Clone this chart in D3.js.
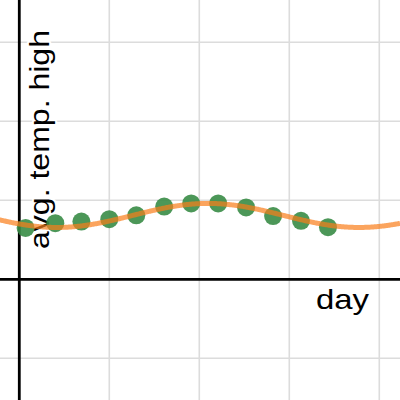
<!DOCTYPE html>
<html>
<head>
<meta charset="utf-8">
<script src="https://d3js.org/d3.v7.min.js"></script>
<style>
  body { margin: 0; background: #fff; }
  text { font-family: "Liberation Sans", Arial, sans-serif; }
</style>
</head>
<body>
<div id="my_dataviz"></div>

<script>
    // monthly points (day of year, avg. temp. high)
    var days  = [7, 40, 69, 100, 130, 161, 191, 221, 252, 282, 313, 343];
    var temps = [65, 71, 73, 76, 81, 92, 96, 96, 91, 80, 74, 66];

    // fitted sine curve: mid + amp * cos(2pi (x - peak) / period)
    var fitMid = 80.8, fitAmp = 15.2, fitPeak = 209.7, fitPeriod = 335.6;

    // grid lines
    var xGrid = [100, 200, 300, 400];
    var yGrid = [-100, 100, 200, 300];

    var width = 400, height = 400;

    var svg = d3.select("#my_dataviz")
        .append("svg")
        .attr("width", width)
        .attr("height", height);

    var x = d3.scaleLinear()
        .domain([-21.44, 423])
        .range([0, width]);

    var y = d3.scaleLinear()
        .domain([-152.8, 353.5])
        .range([height, 0]);

    // grid
    svg.append("g")
        .selectAll("line.vx")
        .data(xGrid)
        .enter()
        .append("line")
        .attr("x1", function (d) { return x(d); })
        .attr("x2", function (d) { return x(d); })
        .attr("y1", 0)
        .attr("y2", height)
        .style("stroke", "#dcdcdc")
        .style("stroke-width", 1.6);

    svg.append("g")
        .selectAll("line.hy")
        .data(yGrid)
        .enter()
        .append("line")
        .attr("x1", 0)
        .attr("x2", width)
        .attr("y1", function (d) { return y(d); })
        .attr("y2", function (d) { return y(d); })
        .style("stroke", "#dcdcdc")
        .style("stroke-width", 1.6);

    // axes
    svg.append("line")
        .attr("x1", x(0)).attr("x2", x(0))
        .attr("y1", 0).attr("y2", height)
        .style("stroke", "#000")
        .style("stroke-width", 2.8);

    svg.append("line")
        .attr("x1", 0).attr("x2", width)
        .attr("y1", y(0)).attr("y2", y(0))
        .style("stroke", "#000")
        .style("stroke-width", 2.8);

    // axis labels
    svg.append("text")
        .attr("transform", "translate(48.5,249) rotate(-90)")
        .style("font-size", "28px")
        .style("text-anchor", "start")
        .attr("textLength", 219)
        .attr("lengthAdjust", "spacingAndGlyphs")
        .style("paint-order", "stroke")
        .style("stroke", "#fff")
        .style("stroke-width", 4)
        .style("stroke-linejoin", "round")
        .text("avg. temp. high");

    svg.append("text")
        .attr("x", 316)
        .attr("y", 308.5)
        .style("font-size", "28px")
        .attr("textLength", 53)
        .attr("lengthAdjust", "spacingAndGlyphs")
        .style("paint-order", "stroke")
        .style("stroke", "#fff")
        .style("stroke-width", 4)
        .style("stroke-linejoin", "round")
        .text("day");

    // dots
    svg.append("g")
        .selectAll("circle")
        .data(days)
        .enter()
        .append("circle")
        .attr("cx", function (d) { return x(d); })
        .attr("cy", function (d, i) { return y(temps[i]); })
        .attr("r", 9)
        .style("fill", "#388c46")
        .style("opacity", 0.9);

    // fitted curve
    var xs = d3.range(-22, 424, 1);
    var line = d3.line()
        .x(function (d) { return x(d); })
        .y(function (d) { return y(fitMid + fitAmp * Math.cos(2 * Math.PI * (d - fitPeak) / fitPeriod)); })
        .curve(d3.curveBasis);

    svg.append("path")
        .datum(xs)
        .attr("d", line)
        .style("fill", "none")
        .style("stroke", "#fa7e19")
        .style("stroke-width", 5)
        .style("stroke-opacity", 0.7);
</script>
</body>
</html>
